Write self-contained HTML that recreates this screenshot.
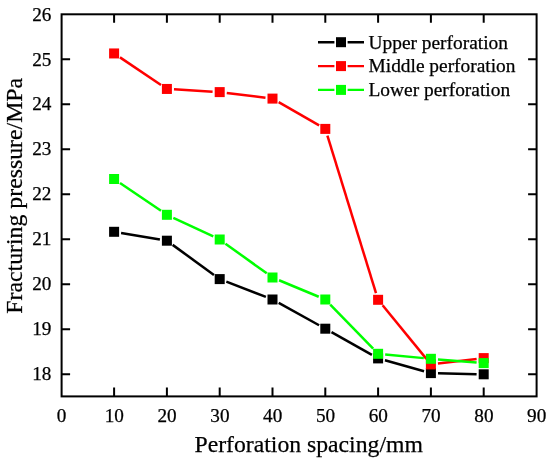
<!DOCTYPE html><html><head><meta charset="utf-8"><style>html,body{margin:0;padding:0;background:#fff}svg{display:block}text{stroke:#000;stroke-width:0.25px;font-family:"Liberation Serif","Times New Roman",serif;fill:#000}</style></head><body>
<svg width="550" height="465" viewBox="0 0 550 465">
<rect width="550" height="465" fill="#fff"/>
<path d="M114.10 14.3 v8.5 M114.10 396.4 v-9 M166.90 14.3 v8.5 M166.90 396.4 v-9 M219.70 14.3 v8.5 M219.70 396.4 v-9 M272.50 14.3 v8.5 M272.50 396.4 v-9 M325.30 14.3 v8.5 M325.30 396.4 v-9 M378.10 14.3 v8.5 M378.10 396.4 v-9 M430.90 14.3 v8.5 M430.90 396.4 v-9 M483.70 14.3 v8.5 M483.70 396.4 v-9 M61.6 374.14 h8.5 M536.6 374.14 h-8.5 M61.6 329.16 h8.5 M536.6 329.16 h-8.5 M61.6 284.18 h8.5 M536.6 284.18 h-8.5 M61.6 239.20 h8.5 M536.6 239.20 h-8.5 M61.6 194.22 h8.5 M536.6 194.22 h-8.5 M61.6 149.24 h8.5 M536.6 149.24 h-8.5 M61.6 104.26 h8.5 M536.6 104.26 h-8.5 M61.6 59.28 h8.5 M536.6 59.28 h-8.5" stroke="#000" stroke-width="2" fill="none"/>
<rect x="61.6" y="14.3" width="475.0" height="382.09999999999997" fill="none" stroke="#000" stroke-width="2"/>
<text x="61.50" y="421.5" font-size="19.2" text-anchor="middle">0</text>
<text x="114.30" y="421.5" font-size="19.2" text-anchor="middle">10</text>
<text x="167.10" y="421.5" font-size="19.2" text-anchor="middle">20</text>
<text x="219.90" y="421.5" font-size="19.2" text-anchor="middle">30</text>
<text x="272.70" y="421.5" font-size="19.2" text-anchor="middle">40</text>
<text x="325.50" y="421.5" font-size="19.2" text-anchor="middle">50</text>
<text x="378.30" y="421.5" font-size="19.2" text-anchor="middle">60</text>
<text x="431.10" y="421.5" font-size="19.2" text-anchor="middle">70</text>
<text x="483.90" y="421.5" font-size="19.2" text-anchor="middle">80</text>
<text x="536.70" y="421.5" font-size="19.2" text-anchor="middle">90</text>
<text x="51.4" y="379.74" font-size="19.2" text-anchor="end">18</text>
<text x="51.4" y="334.86" font-size="19.2" text-anchor="end">19</text>
<text x="51.4" y="289.98" font-size="19.2" text-anchor="end">20</text>
<text x="51.4" y="245.10" font-size="19.2" text-anchor="end">21</text>
<text x="51.4" y="200.22" font-size="19.2" text-anchor="end">22</text>
<text x="51.4" y="155.34" font-size="19.2" text-anchor="end">23</text>
<text x="51.4" y="110.46" font-size="19.2" text-anchor="end">24</text>
<text x="51.4" y="65.58" font-size="19.2" text-anchor="end">25</text>
<text x="51.4" y="20.70" font-size="19.2" text-anchor="end">26</text>
<text x="308.7" y="452.4" font-size="23.7" text-anchor="middle">Perforation spacing/mm</text>
<text transform="translate(22.2 195.8) rotate(-90)" font-size="23.8" text-anchor="middle">Fracturing pressure/MPa</text>
<line x1="121.10" y1="232.98" x2="159.90" y2="239.52" stroke="#000" stroke-width="2.5"/>
<line x1="172.64" y1="244.88" x2="213.96" y2="274.92" stroke="#000" stroke-width="2.5"/>
<line x1="226.32" y1="281.66" x2="265.88" y2="296.94" stroke="#000" stroke-width="2.5"/>
<line x1="278.71" y1="302.94" x2="319.09" y2="325.26" stroke="#000" stroke-width="2.5"/>
<line x1="331.49" y1="332.18" x2="371.91" y2="354.92" stroke="#000" stroke-width="2.5"/>
<line x1="384.94" y1="360.30" x2="424.06" y2="371.20" stroke="#000" stroke-width="2.5"/>
<line x1="438.00" y1="373.26" x2="476.60" y2="374.14" stroke="#000" stroke-width="2.5"/>
<rect x="109.10" y="226.80" width="10" height="10" fill="#000"/>
<rect x="161.90" y="235.70" width="10" height="10" fill="#000"/>
<rect x="214.70" y="274.10" width="10" height="10" fill="#000"/>
<rect x="267.50" y="294.50" width="10" height="10" fill="#000"/>
<rect x="320.30" y="323.70" width="10" height="10" fill="#000"/>
<rect x="373.10" y="353.40" width="10" height="10" fill="#000"/>
<rect x="425.90" y="368.10" width="10" height="10" fill="#000"/>
<rect x="478.70" y="369.30" width="10" height="10" fill="#000"/>
<line x1="119.99" y1="57.41" x2="161.01" y2="84.99" stroke="#f00" stroke-width="2.5"/>
<line x1="173.99" y1="89.37" x2="212.61" y2="91.68" stroke="#f00" stroke-width="2.5"/>
<line x1="226.75" y1="92.97" x2="265.45" y2="97.73" stroke="#f00" stroke-width="2.5"/>
<line x1="278.66" y1="102.13" x2="319.14" y2="125.37" stroke="#f00" stroke-width="2.5"/>
<line x1="327.40" y1="135.68" x2="376.00" y2="293.02" stroke="#f00" stroke-width="2.5"/>
<line x1="382.59" y1="305.30" x2="426.41" y2="358.90" stroke="#f00" stroke-width="2.5"/>
<line x1="437.95" y1="363.56" x2="476.65" y2="358.94" stroke="#f00" stroke-width="2.5"/>
<rect x="109.10" y="48.45" width="10" height="10" fill="#f00"/>
<rect x="161.90" y="83.95" width="10" height="10" fill="#f00"/>
<rect x="214.70" y="87.10" width="10" height="10" fill="#f00"/>
<rect x="267.50" y="93.60" width="10" height="10" fill="#f00"/>
<rect x="320.30" y="123.90" width="10" height="10" fill="#f00"/>
<rect x="373.10" y="294.80" width="10" height="10" fill="#f00"/>
<rect x="425.90" y="359.40" width="10" height="10" fill="#f00"/>
<rect x="478.70" y="353.10" width="10" height="10" fill="#f00"/>
<line x1="119.98" y1="182.98" x2="161.02" y2="210.82" stroke="#0f0" stroke-width="2.5"/>
<line x1="173.33" y1="217.81" x2="213.27" y2="236.49" stroke="#0f0" stroke-width="2.5"/>
<line x1="225.46" y1="243.65" x2="266.74" y2="273.35" stroke="#0f0" stroke-width="2.5"/>
<line x1="279.05" y1="280.23" x2="318.75" y2="296.77" stroke="#0f0" stroke-width="2.5"/>
<line x1="330.25" y1="304.59" x2="373.15" y2="348.71" stroke="#0f0" stroke-width="2.5"/>
<line x1="385.17" y1="354.47" x2="423.83" y2="358.13" stroke="#0f0" stroke-width="2.5"/>
<line x1="437.98" y1="359.38" x2="476.62" y2="362.52" stroke="#0f0" stroke-width="2.5"/>
<rect x="109.10" y="174.00" width="10" height="10" fill="#0f0"/>
<rect x="161.90" y="209.80" width="10" height="10" fill="#0f0"/>
<rect x="214.70" y="234.50" width="10" height="10" fill="#0f0"/>
<rect x="267.50" y="272.50" width="10" height="10" fill="#0f0"/>
<rect x="320.30" y="294.50" width="10" height="10" fill="#0f0"/>
<rect x="373.10" y="348.80" width="10" height="10" fill="#0f0"/>
<rect x="425.90" y="353.80" width="10" height="10" fill="#0f0"/>
<rect x="478.70" y="358.10" width="10" height="10" fill="#0f0"/>
<path d="M318 42.2 H334.4 M347.6 42.2 H364" stroke="#000" stroke-width="2.4"/>
<rect x="336" y="37.2" width="10" height="10" fill="#000"/>
<text x="368.5" y="48.8" font-size="19.4">Upper perforation</text>
<path d="M318 66.1 H334.4 M347.6 66.1 H364" stroke="#f00" stroke-width="2.4"/>
<rect x="336" y="61.099999999999994" width="10" height="10" fill="#f00"/>
<text x="368.5" y="72.4" font-size="19.4">Middle perforation</text>
<path d="M318 89.9 H334.4 M347.6 89.9 H364" stroke="#0f0" stroke-width="2.4"/>
<rect x="336" y="84.9" width="10" height="10" fill="#0f0"/>
<text x="368.5" y="96.3" font-size="19.4">Lower perforation</text>
</svg></body></html>
